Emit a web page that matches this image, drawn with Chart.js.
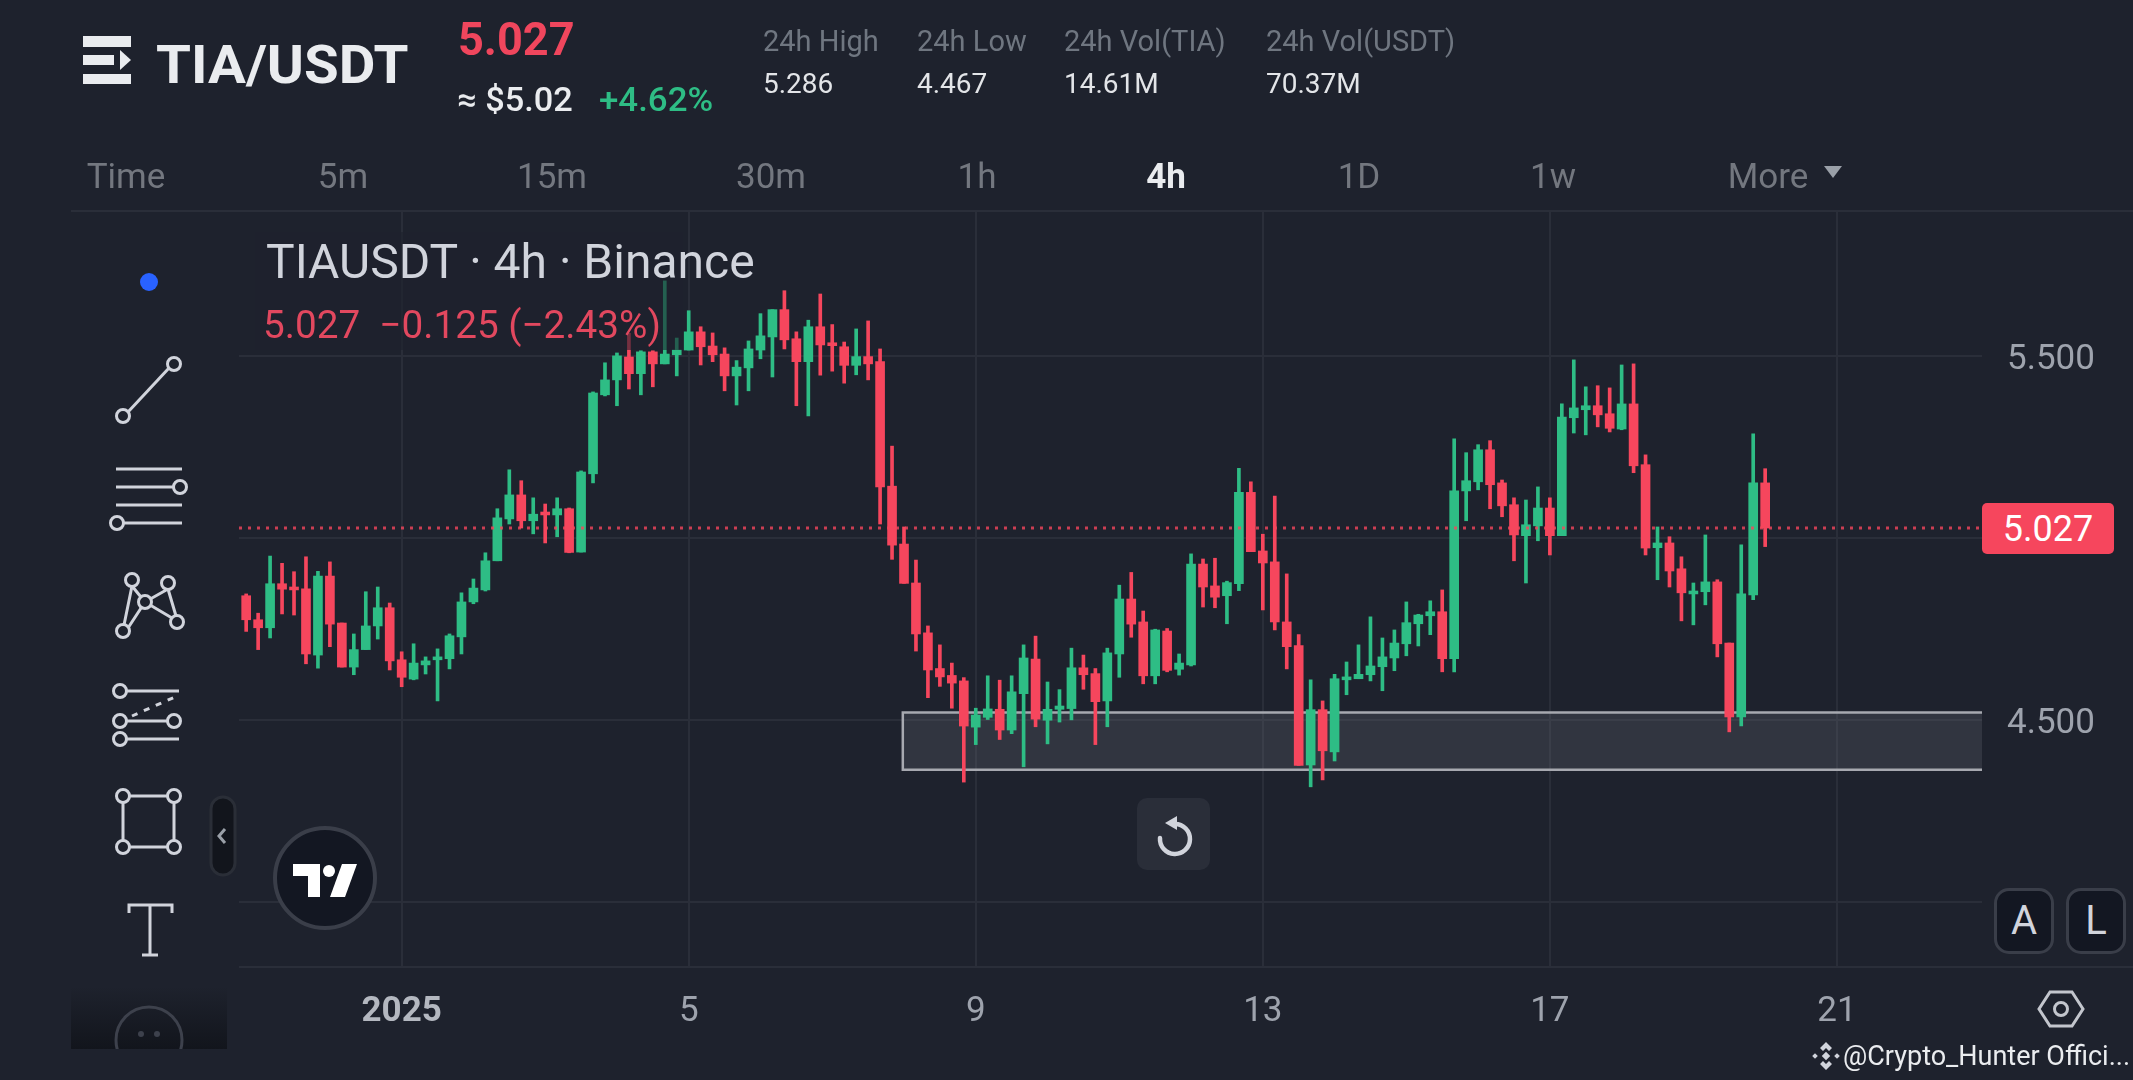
<!DOCTYPE html>
<html><head><meta charset="utf-8">
<script src="https://cdn.jsdelivr.net/npm/chart.js@4/dist/chart.umd.js"></script>
<style>
html,body{margin:0;padding:0;width:2133px;height:1080px;overflow:hidden;background:#1e222d;font-family:Roboto,sans-serif}
#c{position:absolute;left:0;top:0}
.t{position:absolute;white-space:nowrap;line-height:1}
.c{transform:translateX(-50%)}
.tab{top:159px;font-size:35px;color:#73777f}
.lab{top:27px;font-size:29px;color:#6f7680}
.val{top:70px;font-size:28px;color:#e3e5e8}
.ln{position:absolute;background:#2a2e39;height:2px}
svg{position:absolute;left:0;top:0}
.btn{position:absolute;background:#131722;border:3px solid #3a3e49;border-radius:15px;box-sizing:border-box;width:60px;height:66px;top:888px;color:#d1d4dc;font-size:40px;text-align:center;line-height:60px}
</style></head><body>
<canvas id="c" width="2133" height="1080"></canvas>
<div class="ln" style="left:71px;right:0;top:210px"></div>
<div class="ln" style="left:239px;right:0;top:966px"></div>
<div style="position:absolute;left:255px;top:232px;width:428px;height:118px;background:rgba(30,34,45,.6)"></div>

<div class="t" style="left:156px;top:38px;font-size:54px;font-weight:700;color:#eaecef;transform:scaleX(1.045);transform-origin:left">TIA/USDT</div>
<div class="t" style="left:458px;top:16px;font-size:46px;font-weight:700;color:#f0465d;transform:scaleX(.98);transform-origin:left">5.027</div>
<div class="t" style="left:457px;top:82px;font-size:34px;font-weight:500;color:#eaecef;transform:scaleX(1.01);transform-origin:left">≈ $5.02</div>
<div class="t" style="left:599px;top:82px;font-size:34px;font-weight:500;color:#2ebd85;transform:scaleX(1.025);transform-origin:left">+4.62%</div>

<div class="t lab" style="left:763px">24h High</div><div class="t val" style="left:763px">5.286</div>
<div class="t lab" style="left:917px">24h Low</div><div class="t val" style="left:917px">4.467</div>
<div class="t lab" style="left:1064px">24h Vol(TIA)</div><div class="t val" style="left:1064px">14.61M</div>
<div class="t lab" style="left:1266px">24h Vol(USDT)</div><div class="t val" style="left:1266px">70.37M</div>

<div class="t tab c" style="left:126px">Time</div>
<div class="t tab c" style="left:343px">5m</div>
<div class="t tab c" style="left:552px">15m</div>
<div class="t tab c" style="left:771px">30m</div>
<div class="t tab c" style="left:977px">1h</div>
<div class="t tab c" style="left:1166px;color:#eaecef;font-weight:700">4h</div>
<div class="t tab c" style="left:1359px">1D</div>
<div class="t tab c" style="left:1553px">1w</div>
<div class="t tab c" style="left:1768px">More</div>

<div class="t" style="left:266px;top:238px;font-size:48px;color:#d1d4dc">TIAUSDT · 4h · Binance</div>
<div class="t" style="left:263px;top:306px;font-size:38.7px;color:#e2485f">5.027&nbsp; −0.125 (−2.43%)</div>

<div class="t c" style="left:2048px;top:503px;width:132px;height:51px;background:#f6465d;border-radius:5px;color:#fff;font-size:36px;line-height:52px;text-align:center">5.027</div>

<div class="btn" style="left:1994px">A</div>
<div class="btn" style="left:2066px">L</div>
<div class="t" style="left:1843px;top:1043px;font-size:27px;color:#eaecef">@Crypto_Hunter Offici...</div>

<svg width="2133" height="1080" fill="none" stroke="#d1d4dc" stroke-width="3">
 <g fill="#eaecef" stroke="none">
  <rect x="83" y="36" width="48" height="11"/><rect x="83" y="55" width="31" height="10"/><rect x="83" y="74" width="48" height="10"/>
  <path d="M120 50 L131 60 L120 70Z"/>
 </g>
 <path d="M1824 166h18l-9 12z" fill="#9aa0a8" stroke="none"/>
 <circle cx="149" cy="282" r="9" fill="#2962ff" stroke="none"/>
 <path d="M128 412L169 368"/><circle cx="174" cy="364" r="6.5"/><circle cx="123" cy="416" r="6.5"/>
 <path d="M116 469H182M116 487H173M116 505H182M124 523H182"/><circle cx="180" cy="487" r="6.5"/><circle cx="117" cy="523" r="6.5"/>
 <path d="M132 586L124 625M132 586L145 602M128 628L145 602M145 602L168 589M145 602L172 618M168 589L176 616"/>
 <circle cx="132" cy="580" r="6.5" fill="#1e222d"/><circle cx="168" cy="583" r="6.5" fill="#1e222d"/><circle cx="145" cy="602" r="6.5" fill="#1e222d"/><circle cx="123" cy="631" r="6.5" fill="#1e222d"/><circle cx="177" cy="622" r="6.5" fill="#1e222d"/>
 <path d="M127 691H179M127 721H168M127 739H179"/><path d="M132 716L175 697" stroke-dasharray="6 7"/>
 <circle cx="120" cy="691" r="6.5"/><circle cx="120" cy="721" r="6.5"/><circle cx="174" cy="721" r="6.5"/><circle cx="120" cy="739" r="6.5"/>
 <path d="M129 796H168M129 847H168M123 802V841M174 802V841"/>
 <circle cx="123" cy="796" r="6.5"/><circle cx="174" cy="796" r="6.5"/><circle cx="123" cy="847" r="6.5"/><circle cx="174" cy="847" r="6.5"/>
 <path d="M129 913V905H172V913M150 905V955M142 955H158"/>
 <rect x="211" y="797" width="24" height="78" rx="12" fill="#12151c" stroke="#2a2e37"/>
 <path d="M225 829L219 836L225 843" stroke="#9aa0a8"/>
 <circle cx="325" cy="878" r="50" fill="#131722" stroke="#3a3e49" stroke-width="4"/>
 <g fill="#fff" stroke="none">
  <path d="M293 864H320V897H308V876H293Z"/><circle cx="329" cy="871" r="6"/><path d="M342 864H357L345 897H330Z"/>
 </g>
 <defs>
  <linearGradient id="g" x1="0" y1="0" x2="0" y2="1"><stop offset="0" stop-color="#1e222d"/><stop offset="1" stop-color="#12151c"/></linearGradient>
  <clipPath id="bc"><rect x="71" y="987" width="156" height="62"/></clipPath>
 </defs>
 <rect x="71" y="987" width="156" height="62" fill="url(#g)" stroke="none"/>
 <circle cx="149" cy="1040" r="33" stroke="#3d414c" clip-path="url(#bc)"/>
 <circle cx="141" cy="1034" r="3" fill="#3d414c" stroke="none"/><circle cx="157" cy="1034" r="3" fill="#3d414c" stroke="none"/>
 <rect x="1137" y="798" width="73" height="72" rx="10" fill="#2a2e39" stroke="none"/>
 <path d="M1175 824A15 15 0 1 1 1160 838" stroke-width="4.5" stroke-linecap="round"/><path d="M1165 823L1177 816V830Z" fill="#d1d4dc" stroke="none"/>
 <path d="M2050 992H2072L2083 1009L2072 1026H2050L2039 1009Z" stroke="#c3c6cd"/><circle cx="2061" cy="1009" r="6.5" stroke="#c3c6cd"/>
 <g fill="#d1d4dc" stroke="none">
  <path d="M1826 1042L1832 1048L1829 1051L1826 1048L1823 1051L1820 1048Z"/><path d="M1826 1070L1832 1064L1829 1061L1826 1064L1823 1061L1820 1064Z"/>
  <rect x="1813" y="1054" width="4" height="4" transform="rotate(45 1815 1056)"/><rect x="1835" y="1054" width="4" height="4" transform="rotate(45 1837 1056)"/>
  <rect x="1823" y="1053" width="6" height="6" transform="rotate(45 1826 1056)"/>
 </g>
</svg>
<script>
const tickPositions=[13,37,61,85,109,133];
const tickLabels=['2025','5','9','13','17','21'];
const gridPrices=[5.5,5,4.5,4];
const labelledPrices=[5.5,4.5];
const lastPrice=5.027;
const zoneHigh=4.52, zoneLow=4.363, zoneStart=54.9;

const opens=[4.841,4.775,4.753,4.874,4.865,4.860,4.678,4.895,4.766,4.645,4.693,4.758,4.808,4.665,4.612,4.651,4.665,4.668,4.728,4.824,4.857,4.937,5.052,5.118,5.047,5.071,5.063,5.080,4.961,5.176,5.393,5.434,5.497,5.451,5.511,5.478,5.503,5.516,5.566,5.527,5.505,
5.445,5.467,5.516,5.552,5.627,5.547,5.484,5.580,5.536,5.525,5.474,5.498,5.484,5.142,4.983,4.876,4.739,4.641,4.622,4.607,4.480,4.507,4.529,4.472,4.572,4.667,4.499,4.529,4.531,4.643,4.627,4.552,4.681,4.832,4.769,4.621,4.744,4.639,4.651,4.928,4.868,
4.841,4.874,5.125,4.964,4.934,4.769,4.704,4.376,4.528,4.412,4.610,4.613,4.624,4.646,4.670,4.709,4.764,4.786,4.797,4.668,5.129,5.154,5.242,5.151,5.091,5.006,5.033,5.082,5.006,5.330,5.352,5.363,5.341,5.299,5.368,5.201,4.973,4.986,4.915,4.846,4.852,4.879,4.711,4.508,4.843,5.151];
const highs=[4.846,4.793,4.950,4.930,4.907,4.948,4.908,4.934,4.766,4.736,4.852,4.865,4.821,4.687,4.709,4.673,4.695,4.736,4.849,4.887,4.959,5.080,5.187,5.157,5.110,5.093,5.110,5.082,5.184,5.401,5.481,5.508,5.562,5.514,5.514,5.706,5.549,5.624,5.580,5.563,5.522,
5.487,5.541,5.616,5.627,5.679,5.566,5.598,5.670,5.586,5.538,5.574,5.596,5.519,5.252,5.030,4.939,4.758,4.706,4.656,4.616,4.532,4.621,4.609,4.621,4.706,4.730,4.604,4.583,4.697,4.678,4.641,4.697,4.870,4.905,4.799,4.749,4.751,4.681,4.956,4.942,4.944,
4.881,5.191,5.154,5.010,5.115,4.901,4.734,4.610,4.552,4.625,4.659,4.706,4.783,4.725,4.747,4.824,4.790,4.827,4.857,5.272,5.234,5.256,5.267,5.159,5.110,5.104,5.140,5.110,5.368,5.489,5.415,5.418,5.412,5.475,5.478,5.228,5.030,5.003,4.948,4.876,5.008,4.885,4.711,4.981,5.286,5.190];
const lows=[4.743,4.693,4.725,4.791,4.788,4.654,4.642,4.701,4.645,4.624,4.693,4.722,4.637,4.591,4.610,4.626,4.552,4.640,4.681,4.819,4.854,4.937,5.038,5.027,5.011,4.986,5.003,4.959,4.961,5.151,5.390,5.363,5.409,5.393,5.415,5.478,5.445,5.516,5.475,5.484,5.404,
5.365,5.404,5.492,5.442,5.519,5.363,5.335,5.447,5.458,5.425,5.448,5.434,5.038,4.941,4.875,4.689,4.561,4.592,4.532,4.329,4.432,4.501,4.446,4.462,4.371,4.481,4.434,4.494,4.500,4.584,4.432,4.481,4.617,4.727,4.599,4.599,4.632,4.623,4.648,4.810,4.808,
4.764,4.855,4.962,4.802,4.747,4.640,4.375,4.316,4.335,4.387,4.569,4.613,4.607,4.580,4.635,4.676,4.703,4.734,4.632,4.632,5.047,5.132,5.080,5.058,4.937,4.876,4.992,4.953,5.006,5.288,5.283,5.305,5.291,5.297,5.179,4.953,4.885,4.865,4.772,4.761,4.816,4.673,4.467,4.483,4.830,4.976];
const closes=[4.775,4.753,4.874,4.859,4.857,4.681,4.895,4.763,4.645,4.693,4.758,4.808,4.662,4.617,4.656,4.662,4.673,4.731,4.824,4.862,4.937,5.055,5.118,5.047,5.065,5.063,5.080,4.960,5.181,5.398,5.434,5.500,5.451,5.511,5.478,5.505,5.516,5.566,5.525,5.503,5.445,
5.469,5.519,5.555,5.627,5.544,5.484,5.580,5.530,5.528,5.474,5.498,5.478,5.140,4.980,4.875,4.736,4.637,4.618,4.601,4.483,4.513,4.530,4.472,4.577,4.670,4.502,4.529,4.538,4.643,4.624,4.550,4.684,4.832,4.763,4.621,4.747,4.636,4.656,4.928,4.865,4.837,
4.877,5.125,4.962,4.931,4.769,4.701,4.375,4.528,4.415,4.613,4.618,4.625,4.648,4.673,4.711,4.767,4.788,4.797,4.668,5.129,5.157,5.242,5.146,5.088,5.008,5.036,5.082,5.006,5.332,5.357,5.363,5.338,5.301,5.368,5.198,4.972,4.986,4.909,4.849,4.854,4.879,4.709,4.508,4.846,5.151,5.027];

const UP='#2ebd85', DOWN='#f6465d';
const colors=opens.map((o,i)=>closes[i]>=o?UP:DOWN);
const steps=opens.map((_,i)=>i);

const zonePlugin={id:'zone',beforeDatasetsDraw(ch){
  const {ctx,chartArea:a,scales:{x,y}}=ch;
  const l=x.getPixelForValue(zoneStart), t=y.getPixelForValue(zoneHigh), b=y.getPixelForValue(zoneLow);
  ctx.save();ctx.fillStyle='rgba(120,123,134,.22)';ctx.fillRect(l,t,a.right-l,b-t);
  ctx.strokeStyle='#a7a9b0';ctx.lineWidth=2.5;
  ctx.beginPath();ctx.moveTo(a.right,t);ctx.lineTo(l,t);ctx.lineTo(l,b);ctx.lineTo(a.right,b);ctx.stroke();ctx.restore();
}};

new Chart(document.getElementById('c'),{
  data:{datasets:[
    {type:'line',order:0,data:[{x:-0.6,y:lastPrice},{x:145.13,y:lastPrice}],borderColor:'rgba(246,70,93,.8)',borderWidth:3,borderDash:[3,6],pointRadius:0},
    {type:'bar',order:1,grouped:false,data:steps.map(i=>({x:i,y:[opens[i],closes[i]]})),backgroundColor:colors,barThickness:9,borderWidth:0},
    {type:'bar',order:2,grouped:false,data:steps.map(i=>({x:i,y:[lows[i],highs[i]]})),backgroundColor:colors,barThickness:3,borderWidth:0}
  ]},
  options:{
    responsive:false,animation:false,
    layout:{padding:{left:239,top:211,right:0,bottom:0}},
    plugins:{legend:{display:false},tooltip:{enabled:false}},
    scales:{
      x:{type:'linear',offset:false,min:-0.6,max:145.13,
        afterBuildTicks:s=>{s.ticks=tickPositions.map(v=>({value:v}))},
        afterFit:s=>{s.height=113},
        grid:{offset:false,color:'#2a2e39',lineWidth:2,drawTicks:false},border:{display:false},
        ticks:{autoSkip:false,maxRotation:0,padding:24,
          callback:(v,i)=>tickLabels[i],
          color:c=>c.index===0?'#b4b8c0':'#9ea3ad',
          font:c=>({family:'Roboto',size:35,weight:c.index===0?'700':'400'})}},
      y:{type:'linear',position:'right',min:3.821,max:5.898,
        afterBuildTicks:s=>{s.ticks=gridPrices.map(v=>({value:v}))},
        afterFit:s=>{s.width=151},
        grid:{color:'#2a2e39',lineWidth:2,drawTicks:false},border:{display:false},
        ticks:{autoSkip:false,padding:25,crossAlign:'near',color:'#9ea3ad',font:{family:'Roboto',size:35,lineHeight:0.23},
          callback:v=>labelledPrices.includes(v)?['',v.toFixed(3)]:''}}
    }
  },
  plugins:[zonePlugin]
});
</script>
</body></html>
